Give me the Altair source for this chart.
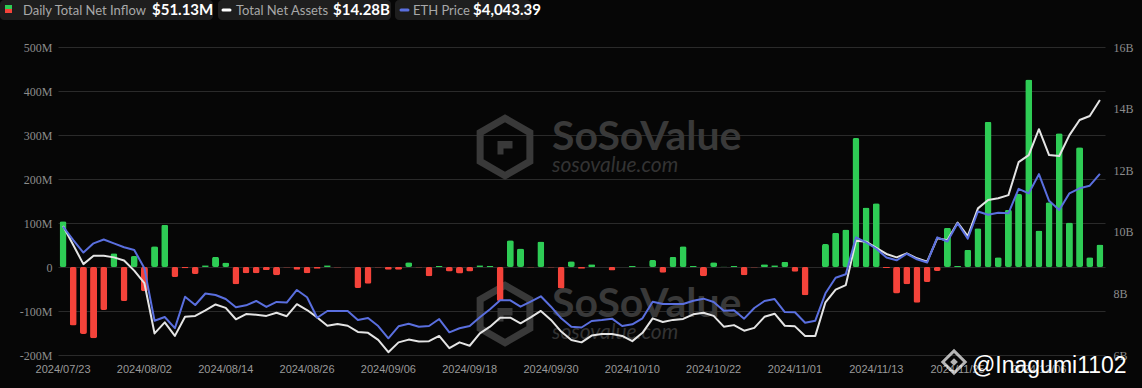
import altair as alt
import pandas as pd

# ---------------- data ----------------
dates = [
    "2024/07/23", "2024/07/24", "2024/07/25", "2024/07/26", "2024/07/29", "2024/07/30", "2024/07/31",
    "2024/08/01", "2024/08/02", "2024/08/05", "2024/08/06", "2024/08/07", "2024/08/08", "2024/08/09",
    "2024/08/12", "2024/08/13", "2024/08/14", "2024/08/15", "2024/08/16", "2024/08/19", "2024/08/20",
    "2024/08/21", "2024/08/22", "2024/08/23", "2024/08/26", "2024/08/27", "2024/08/28", "2024/08/29",
    "2024/08/30", "2024/09/03", "2024/09/04", "2024/09/05", "2024/09/06", "2024/09/09", "2024/09/10",
    "2024/09/11", "2024/09/12", "2024/09/13", "2024/09/16", "2024/09/17", "2024/09/18", "2024/09/19",
    "2024/09/20", "2024/09/23", "2024/09/24", "2024/09/25", "2024/09/26", "2024/09/27", "2024/09/30",
    "2024/10/01", "2024/10/02", "2024/10/03", "2024/10/04", "2024/10/07", "2024/10/08", "2024/10/09",
    "2024/10/10", "2024/10/11", "2024/10/14", "2024/10/15", "2024/10/16", "2024/10/17", "2024/10/18",
    "2024/10/21", "2024/10/22", "2024/10/23", "2024/10/24", "2024/10/25", "2024/10/28", "2024/10/29",
    "2024/10/30", "2024/10/31", "2024/11/01", "2024/11/04", "2024/11/05", "2024/11/06", "2024/11/07",
    "2024/11/08", "2024/11/11", "2024/11/12", "2024/11/13", "2024/11/14", "2024/11/15", "2024/11/18",
    "2024/11/19", "2024/11/20", "2024/11/21", "2024/11/22", "2024/11/25", "2024/11/26", "2024/11/27",
    "2024/11/29", "2024/12/02", "2024/12/03", "2024/12/04", "2024/12/05", "2024/12/06", "2024/12/09",
    "2024/12/10", "2024/12/11", "2024/12/12", "2024/12/13", "2024/12/16",
]

# Daily total net inflow (million USD)
flow = [
    104, -133, -152, -162, -98, 31, -77, 25, -55, 47,
    96, -23, -3, -16, 4, 23, 10, -39, -14, -14,
    -7, -19, -1, -6, -14, -4, 4, -1, 0, -48,
    -38, -1, -6, -6, 11, -1, -21, 2, -10, -15,
    -10, 4, 2, -77, 61, 42, -1, 58, -1, -49,
    13, -4, 6, 0, -8, 0, 2, 0, 16, -13,
    23, 47, 2, -21, 11, 1, 2, -19, -1, 6,
    4, 12, -11, -64, 0, 52, 78, 85, 293, 135,
    145, -2, -60, -39, -81, -34, -9, 89, 2, 39,
    88, 330, 22, 130, 166, 426, 83, 147, 304, 101,
    272, 22, 51.13,
]

# Total net assets (billion USD)
assets = [
    10.19, 9.57, 8.95, 9.22, 9.22, 9.17, 9.07, 8.74, 8.33, 6.70,
    7.06, 6.62, 7.24, 7.27, 7.45, 7.64, 7.53, 7.16, 7.33, 7.31,
    7.27, 7.37, 7.26, 7.65, 7.46, 7.22, 6.95, 7.01, 6.95, 6.75,
    6.72, 6.49, 6.09, 6.41, 6.50, 6.44, 6.45, 6.62, 6.22, 6.41,
    6.30, 6.70, 6.92, 7.21, 7.21, 7.03, 7.22, 7.43, 7.14, 6.76,
    6.49, 6.41, 6.63, 6.68, 6.68, 6.62, 6.45, 6.72, 7.19, 7.07,
    7.14, 7.17, 7.32, 7.37, 7.27, 6.92, 6.97, 6.79, 6.88, 7.24,
    7.34, 6.95, 6.93, 6.62, 6.62, 7.71, 8.12, 8.27, 9.71, 9.68,
    9.48, 9.28, 9.17, 9.30, 9.14, 9.03, 9.79, 9.73, 10.30, 9.86,
    10.76, 11.03, 11.09, 11.19, 12.26, 12.49, 13.33, 12.49, 12.46, 13.14,
    13.63, 13.76, 14.28,
]

# ETH price (USD)
eth = [
    3473, 3327, 3191, 3291, 3332, 3291, 3248, 3219, 3020, 2451,
    2492, 2371, 2711, 2622, 2747, 2731, 2687, 2597, 2619, 2666,
    2601, 2655, 2649, 2785, 2706, 2484, 2557, 2557, 2557, 2460,
    2481, 2394, 2261, 2391, 2418, 2387, 2394, 2470, 2326, 2370,
    2394, 2489, 2576, 2673, 2673, 2604, 2658, 2717, 2604, 2478,
    2387, 2378, 2449, 2460, 2474, 2394, 2413, 2478, 2658, 2633,
    2633, 2633, 2669, 2691, 2655, 2560, 2565, 2474, 2590, 2666,
    2687, 2546, 2543, 2430, 2452, 2749, 2918, 2955, 3356, 3302,
    3232, 3137, 3107, 3178, 3118, 3083, 3356, 3311, 3508, 3341,
    3636, 3601, 3623, 3617, 3882, 3833, 4041, 3752, 3652, 3833,
    3888, 3916, 4043.39,
]

x_tick_labels = [
    "2024/07/23", "2024/08/02", "2024/08/14", "2024/08/26", "2024/09/06", "2024/09/18",
    "2024/09/30", "2024/10/10", "2024/10/22", "2024/11/01", "2024/11/13", "2024/11/25",
    "2024/12/06",
]
left_ticks = [-200, -100, 0, 100, 200, 300, 400, 500]
right_ticks = [6, 8, 10, 12, 14, 16]

legend_labels = ["Daily Total Net Inflow", "Total Net Assets", "ETH Price"]
legend_values = ["$51.13M", "$14.28B", "$4,043.39"]

df = pd.DataFrame({"date": dates, "flow": flow, "assets": assets, "eth": eth})

# ---------------- styles ----------------
BG = "#060606"
GREEN = "#2ecc55"
RED = "#f4433a"
WHITE_LINE = "#e4e4e4"
BLUE_LINE = "#5a6fdf"
GRID = "#2a2a2a"
AXIS_TXT = "#8c8c8c"
WM = "#393939"

x_enc = alt.X(
    "date:O",
    sort=None,
    scale=alt.Scale(type="band", domain=dates, paddingInner=0, paddingOuter=0),
    axis=alt.Axis(
        values=x_tick_labels, labelAngle=0, domain=False, ticks=False, grid=False,
        labelColor="#9a9a9a", labelFont="Liberation Sans", labelFontSize=11,
        labelPadding=8, labelOverlap=False, title=None,
    ),
)

base = alt.Chart(df)

bars = base.mark_bar(width=7, cornerRadius=2).encode(
    x=x_enc,
    y=alt.Y(
        "flow:Q",
        scale=alt.Scale(domain=[-200, 500], nice=False, zero=False),
        axis=alt.Axis(
            orient="left", values=left_ticks,
            labelExpr="datum.value == 0 ? '0' : datum.value + 'M'",
            grid=True, gridColor=GRID, gridWidth=1, domain=False, ticks=False,
            labelColor=AXIS_TXT, labelFont="Liberation Serif", labelFontSize=12,
            labelPadding=6, title=None,
        ),
    ),
    color=alt.condition(alt.datum.flow >= 0, alt.value(GREEN), alt.value(RED)),
)

assets_line = base.mark_line(color=WHITE_LINE, strokeWidth=2, strokeJoin="round").encode(
    x=x_enc,
    y=alt.Y(
        "assets:Q",
        scale=alt.Scale(domain=[6, 16], nice=False, zero=False),
        axis=alt.Axis(
            orient="right", values=right_ticks, labelExpr="datum.value + 'B'",
            grid=False, domain=False, ticks=False, labelColor=AXIS_TXT,
            labelFont="Liberation Serif", labelFontSize=12, labelPadding=8, title=None,
        ),
    ),
)

eth_line = base.mark_line(color=BLUE_LINE, strokeWidth=2, strokeJoin="round").encode(
    x=x_enc,
    y=alt.Y("eth:Q", scale=alt.Scale(domain=[2080, 5420], nice=False, zero=False), axis=None),
)

one = alt.Data(values=[{"k": 1}])


def txt(text, x, y, **kw):
    return alt.Chart(one).mark_text(text=text, **kw).encode(x=alt.value(x), y=alt.value(y))


def box(x1, x2, y1, y2, color, radius=0):
    return alt.Chart(one).mark_rect(color=color, cornerRadius=radius).encode(
        x=alt.value(x1), x2=alt.value(x2), y=alt.value(y1), y2=alt.value(y2)
    )


def dash(x1, x2, y, color):
    return alt.Chart(one).mark_rule(color=color, strokeWidth=3, strokeCap="round").encode(
        x=alt.value(x1), x2=alt.value(x2), y=alt.value(y)
    )


HEX = "M0,-1 L0.866,-0.5 L0.866,0.5 L0,1 L-0.866,0.5 L-0.866,-0.5 Z"

watermark = []
for dy in (0, 167):
    watermark.append(
        alt.Chart(one).mark_point(shape=HEX, size=3300, filled=False, strokeWidth=7, color=WM, opacity=1)
        .encode(x=alt.value(447), y=alt.value(100 + dy))
    )
    watermark.append(
        alt.Chart(one).mark_point(shape="M-0.5,-0.4 L0.5,-0.4 L0.5,0.1 L-0.1,0.1 L-0.1,0.5 L-0.5,0.5 Z",
                                  size=900, filled=True, color=WM, opacity=1)
        .encode(x=alt.value(447), y=alt.value(100 + dy))
    )
    watermark.append(txt("SoSoValue", 494, 103 + dy, align="left", baseline="alphabetic",
                         font="Lato", fontSize=41, fontWeight="bold", color=WM))
    watermark.append(txt("sosovalue.com", 494, 125 + dy, align="left", baseline="alphabetic",
                         font="Lato", fontSize=21, fontStyle="italic", color="#333333"))

LBL = dict(align="left", baseline="alphabetic", font="Lato", fontSize=13, color="#a8a8a8")
VAL = dict(align="left", baseline="alphabetic", font="Lato", fontSize=15, fontWeight="bold", color="#ffffff")

legend = [
    box(-58, 155, -47, -27, "#1e1e1e", 4),
    box(-53, -46, -42, -38, GREEN),
    box(-53, -46, -38, -34, RED),
    txt(legend_labels[0], -35, -32, **LBL),
    txt(legend_values[0], 94, -32, **VAL),
    box(160, 333, -47, -27, "#1e1e1e", 4),
    dash(165, 172, -37, "#ffffff"),
    txt(legend_labels[1], 178, -32, **LBL),
    txt(legend_values[1], 275, -32, **VAL),
    box(337, 473, -47, -27, "#1e1e1e", 4),
    dash(343, 350, -37, BLUE_LINE),
    txt(legend_labels[2], 355, -32, **LBL),
    txt(legend_values[2], 415, -32, **VAL),
]

credit = [
    alt.Chart(one).mark_point(shape="diamond", size=500, filled=False, strokeWidth=3, color="#ffffff")
    .encode(x=alt.value(896), y=alt.value(315)),
    alt.Chart(one).mark_point(shape="diamond", size=60, filled=True, color="#ffffff")
    .encode(x=alt.value(896), y=alt.value(315)),
    txt("@Inagumi1102", 914, 326, align="left", baseline="alphabetic",
        font="Liberation Sans", fontSize=23, color="#ffffff"),
]

main = alt.layer(bars, assets_line, eth_line).resolve_scale(y="independent")

chart = (
    alt.layer(*watermark, main, *legend, *credit)
    .resolve_scale(y="independent")
    .properties(
        width=1047,
        height=308,
        background=BG,
        autosize=alt.AutoSizeParams(type="none"),
        padding={"left": 58, "top": 47, "right": 37, "bottom": 33},
    )
    .configure_view(stroke=None)
)

chart.save("out.html", embed_options={"renderer": "svg", "actions": False})
